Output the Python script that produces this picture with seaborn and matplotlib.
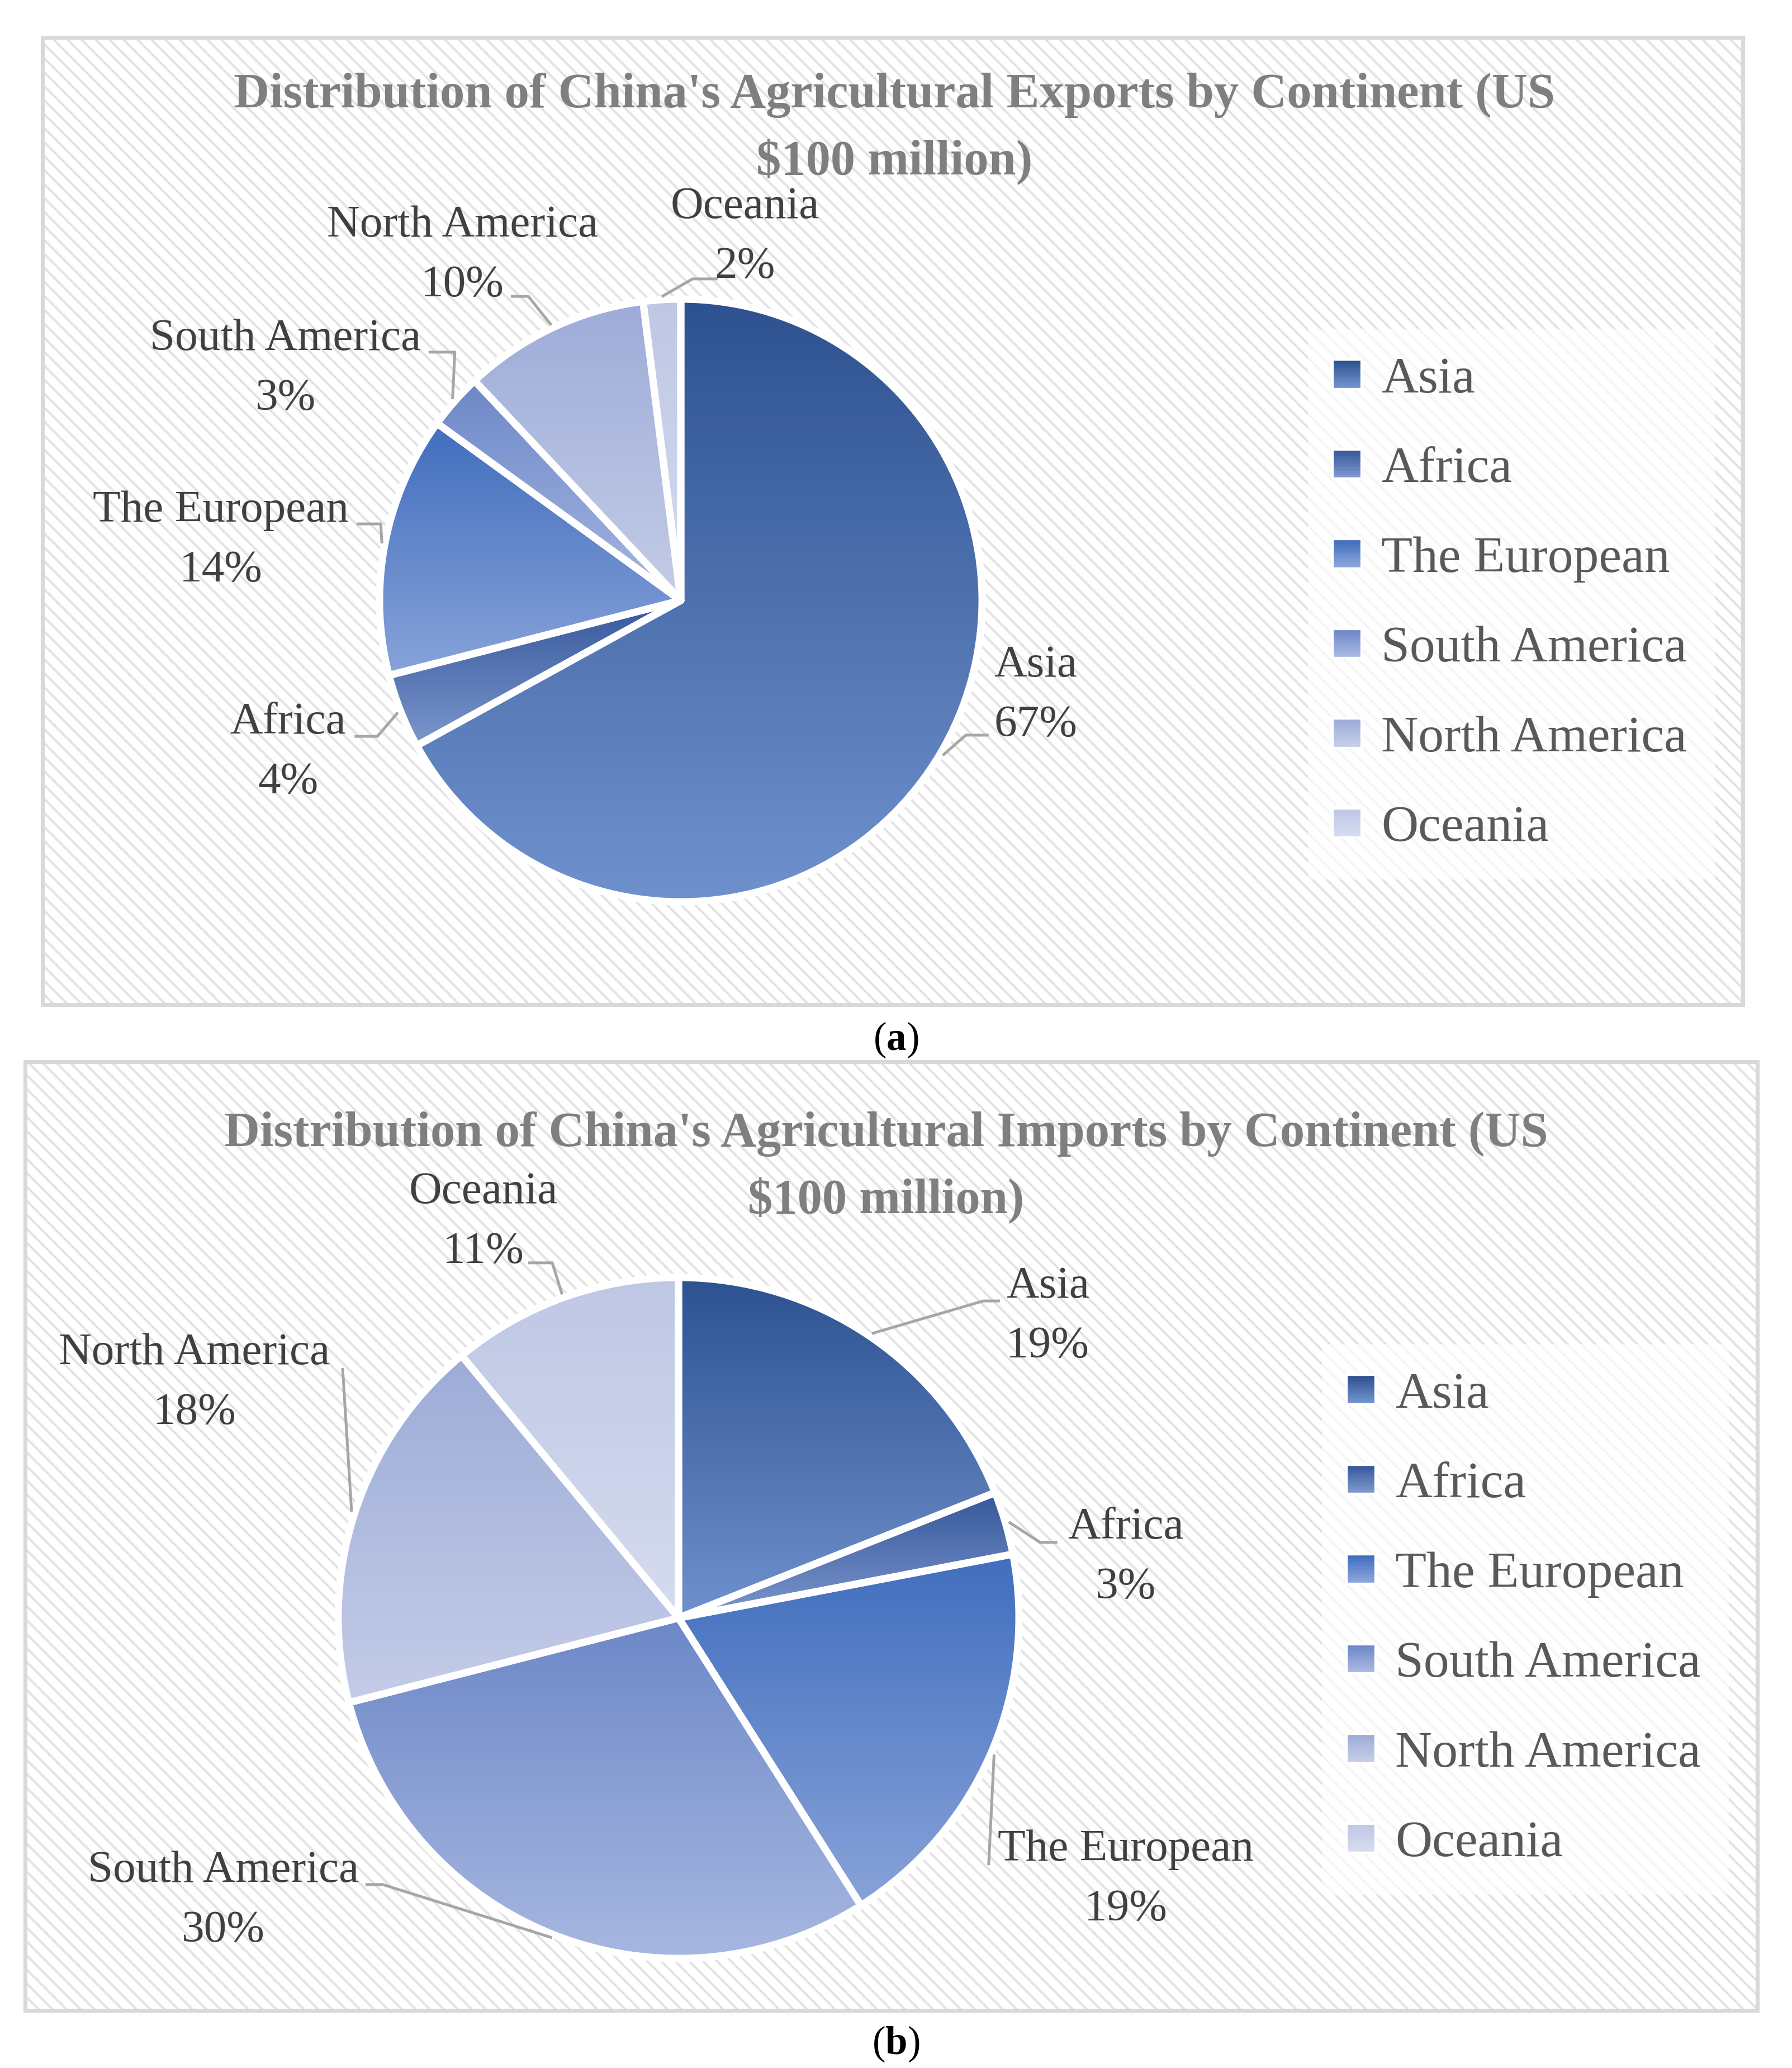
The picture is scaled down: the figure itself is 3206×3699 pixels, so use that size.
import numpy as np
import matplotlib
matplotlib.use("Agg")
import matplotlib.pyplot as plt
import seaborn as sns
from matplotlib.patches import Rectangle, Patch
from matplotlib.legend_handler import HandlerBase

# ---------------- DATA ----------------
continents = ["Asia", "Africa", "The European", "South America", "North America", "Oceania"]
export_share = [67, 4, 14, 3, 10, 2]
import_share = [19, 3, 19, 30, 18, 11]

# gradient colours of every slice (top -> bottom)
slice_top = ["#2E5190", "#35579B", "#416EBE", "#6D88C8", "#9DACD8", "#BEC7E4"]
slice_bottom = ["#6F92CE", "#7D97CD", "#88A3D9", "#A7B7E0", "#C4CCE7", "#D6DCEF"]

title_a = "Distribution of China's Agricultural Exports by Continent (US\n$100 million)"
title_b = "Distribution of China's Agricultural Imports by Continent (US\n$100 million)"

# ---------------- LAYOUT (pixels) ----------------
W, H, DPI = 3206, 3699, 150

layout_a = dict(frame=(76, 67, 3118, 1797), center=(1218, 1074), radius=539,
                title_xy=(1600, 230), legend_xy=(2340, 588), caption="a", caption_y=1860,
                # text centre, stub start, elbow (pie units)
                labels=[((1.178, -0.315), (1.022, -0.447), (0.946, -0.447)),
                        ((-1.304, -0.505), (-1.083, -0.451), (-1.007, -0.451)),
                        ((-1.527, 0.199), (-1.076, 0.254), (-0.996, 0.254)),
                        ((-1.312, 0.768), (-0.837, 0.824), (-0.750, 0.824)),
                        ((-0.724, 1.145), (-0.564, 1.009), (-0.506, 1.009)),
                        ((0.213, 1.206), (0.122, 1.067), (0.039, 1.067))])

layout_b = dict(frame=(45, 1899, 3144, 3596), center=(1214, 2894), radius=609,
                title_xy=(1585, 2088), legend_xy=(2365, 2404), caption="b", caption_y=3656,
                labels=[((1.085, 0.885), (0.944, 0.931), (0.895, 0.931)),
                        ((1.314, 0.177), (1.113, 0.222), (1.062, 0.222)),
                        ((1.314, -0.768), (0.911, -0.726), (0.911, -0.726)),
                        ((-1.338, -0.831), (-0.920, -0.783), (-0.869, -0.783)),
                        ((-1.422, 0.690), (-0.987, 0.734), (-0.987, 0.734)),
                        ((-0.573, 1.163), (-0.442, 1.043), (-0.371, 1.043))])

sns.set_theme(style="white")
plt.rcParams["font.family"] = ["Liberation Serif", "DejaVu Serif"]
plt.rcParams["mathtext.fontset"] = "custom"
plt.rcParams["mathtext.rm"] = "Liberation Serif"
plt.rcParams["mathtext.bf"] = "Liberation Serif:bold"
plt.rcParams["hatch.linewidth"] = 2.0


class GradientSquare(HandlerBase):
    def __init__(self, grads):
        super().__init__()
        self.grads = grads

    def create_artists(self, legend, orig_handle, xdescent, ydescent, width, height, fontsize, trans):
        top, bottom = self.grads[orig_handle.get_label()]
        steps = sns.blend_palette([top, bottom], n_colors=14)
        size = height
        x0 = -xdescent + (width - size) / 2
        y0 = -ydescent
        pad = 2.5
        arts = [Rectangle((x0 - pad, y0 - pad), size + 2 * pad, size + 2 * pad,
                          facecolor="white", edgecolor="none", transform=trans)]
        n = len(steps)
        for i, c in enumerate(steps):
            arts.append(Rectangle((x0, y0 + size * (1 - (i + 1) / n)), size, size / n,
                                  facecolor=c, edgecolor=c, lw=0.3, transform=trans))
        return arts


def draw_panel(fig, values, title, lay):
    x0, y0, x1, y1 = lay["frame"]
    cx, cy = lay["center"]
    R = lay["radius"]
    ax = fig.add_axes([x0 / W, 1 - y1 / H, (x1 - x0) / W, (y1 - y0) / H])

    # striped chart area + border
    ax.add_patch(Rectangle((0, 0), 1, 1, transform=ax.transAxes, facecolor="white",
                           edgecolor="#E3E3E3", hatch="\\\\", lw=0, zorder=0, clip_on=False))
    ax.add_patch(Rectangle((0, 0), 1, 1, transform=ax.transAxes, fill=False,
                           edgecolor="#D9D9D9", lw=3.4, zorder=0.5, clip_on=False))

    wedges, _ = ax.pie(values, startangle=90, counterclock=False, radius=1,
                       wedgeprops=dict(edgecolor="white", linewidth=6.2, joinstyle="round"))

    grad = np.linspace(0, 1, 256)[:, None]
    for w, top, bottom in zip(wedges, slice_top, slice_bottom):
        ext = w.get_patch_transform().transform_path(w.get_path()).get_extents()
        cmap = sns.blend_palette([top, bottom], as_cmap=True)
        im = ax.imshow(grad, cmap=cmap, extent=(ext.x0, ext.x1, ext.y0, ext.y1),
                       origin="upper", aspect="auto", interpolation="bilinear", zorder=2)
        im.set_clip_path(w)
        w.set_facecolor("none")
        w.set_zorder(3)

    # data labels with leader lines
    for w, name, val, (txt, stub, elbow) in zip(wedges, continents, values, lay["labels"]):
        mid = np.deg2rad((w.theta1 + w.theta2) / 2)
        end = (1.01 * np.cos(mid), 1.01 * np.sin(mid))
        ax.plot([stub[0], elbow[0], end[0]], [stub[1], elbow[1], end[1]],
                color="#A6A6A6", lw=2.4, solid_capstyle="butt", zorder=4)
        ax.text(txt[0], txt[1], f"{name}\n{val}%", ha="center", va="center",
                fontsize=39, color="#404040", linespacing=1.6, multialignment="center", zorder=5)

    ax.set_xlim((x0 - cx) / R, (x1 - cx) / R)
    ax.set_ylim((cy - y1) / R, (cy - y0) / R)
    ax.set_aspect("auto")
    ax.axis("off")

    # title
    tx, ty = lay["title_xy"]
    fig.text(tx / W, 1 - ty / H, title, ha="center", va="center", fontsize=42.5,
             fontweight="bold", color="#7F7F7F", linespacing=1.55)

    # legend
    grads = {c: (t, b) for c, t, b in zip(continents, slice_top, slice_bottom)}
    handles = [Patch(label=c) for c in continents]
    lx, ly = lay["legend_xy"]
    leg = ax.legend(handles=handles, handler_map={Patch: GradientSquare(grads)},
                    loc="upper left", bbox_to_anchor=(lx / W, 1 - ly / H),
                    bbox_transform=fig.transFigure, fontsize=44, labelcolor="#595959",
                    frameon=True, facecolor="white", framealpha=0.65, edgecolor="none",
                    fancybox=False, handlelength=0.42, handleheight=0.42,
                    handletextpad=0.46, labelspacing=0.85, borderpad=0.55, borderaxespad=0)
    leg.get_frame().set_linewidth(0)

    # caption
    fig.text(0.5, 1 - lay["caption_y"] / H, "(" + r"$\mathbf{" + lay["caption"] + "}$" + ")",
             ha="center", va="center", fontsize=34, color="black")
    return ax


fig = plt.figure(figsize=(W / DPI, H / DPI), dpi=DPI)
fig.patch.set_facecolor("white")
draw_panel(fig, export_share, title_a, layout_a)
draw_panel(fig, import_share, title_b, layout_b)
fig.savefig("out.png", dpi=DPI, facecolor="white")
